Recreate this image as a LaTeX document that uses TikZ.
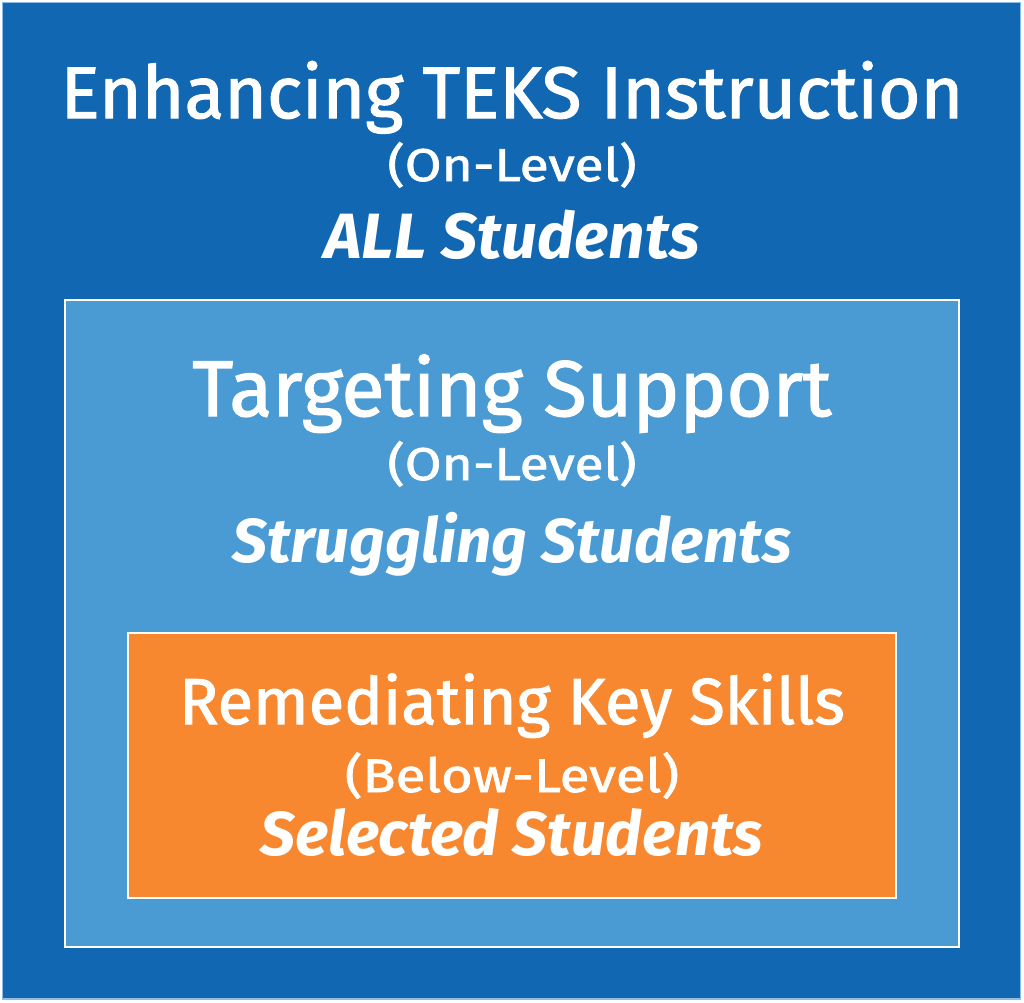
\documentclass[tikz,border=0pt]{standalone}
\usepackage{fontspec}
\setmainfont{Fira Sans}
\newfontfamily\titlefont{Fira Sans}[FakeBold=1.6]
\newfontfamily\parenfont{Fira Sans}[FakeBold=1.6,FakeStretch=1.16]
\definecolor{darkblue}{HTML}{1167B1}
\definecolor{lightblue}{HTML}{4A9BD3}
\definecolor{orangebox}{HTML}{F7882F}
\definecolor{edgeblue}{HTML}{8FBDE6}
\begin{document}
\begin{tikzpicture}[x=1pt,y=-1pt,
  txt/.style={text=white,anchor=base,inner sep=0pt},
  title/.style={txt},
  sub/.style={txt},
  who/.style={txt}]
\useasboundingbox (0,0) rectangle (1024,1002);
\fill[white] (0,0) rectangle (1024,1002);
\draw[fill=darkblue,draw=edgeblue,line width=1.2pt] (2.5,2.5) rectangle (1020.5,999);
\draw[fill=lightblue,draw=white,line width=2.5pt] (65,300) rectangle (959,947);
\draw[fill=orangebox,draw=white,line width=2pt] (127.5,633) rectangle (895.5,898);
\node[title,font=\fontsize{73}{80}\titlefont] (t1) at (512,118) {Enhancing TEKS Instruction};
\node[sub,font=\fontsize{46}{50}\parenfont] (s1) at (512,181) {(On-Level)};
\node[who,font=\fontsize{64}{66}\bfseries\itshape\selectfont] (w1) at (512,258) {ALL Students};
\node[title,font=\fontsize{79}{82}\titlefont] (t2) at (512,416) {Targeting Support};
\node[sub,font=\fontsize{46}{50}\parenfont] (s2) at (512,480) {(On-Level)};
\node[who,font=\fontsize{62}{66}\bfseries\itshape\selectfont] (w2) at (512,562) {Struggling Students};
\node[title,font=\fontsize{65}{66}\titlefont] (t3) at (512,724) {Remediating Key Skills};
\node[sub,font=\fontsize{47}{54}\parenfont] (s3) at (512,792) {(Below-Level)};
\node[who,font=\fontsize{62}{66}\bfseries\itshape\selectfont] (w3) at (512,855) {Selected Students};
\end{tikzpicture}
\end{document}
